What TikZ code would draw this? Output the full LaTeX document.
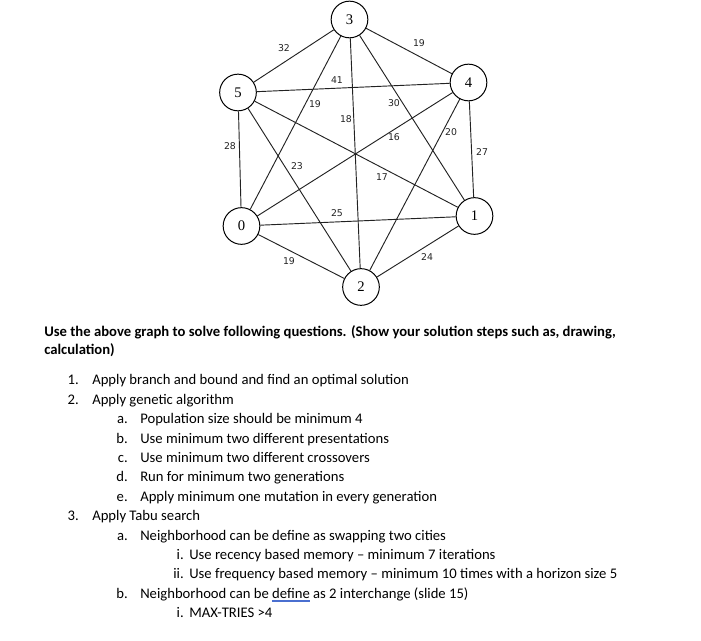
\documentclass[tikz,border=0pt]{standalone}
\usepackage{fontspec}
\setmainfont{Carlito}
\newfontfamily\costfont{DejaVu Sans}
\newfontfamily\cityfont{Liberation Serif}
\usetikzlibrary{positioning}
\definecolor{roadgray}{HTML}{222222}
\definecolor{wordblue}{HTML}{4A6FD0}
\newcommand{\blueul}[1]{\setbox0\hbox{#1}\rlap{\color{wordblue}\rule[-1.6pt]{\wd0}{0.35pt}}\rlap{\color{wordblue}\rule[-2.5pt]{\wd0}{0.35pt}}#1}
\tikzset{
  city/.style={circle,draw,line width=0.75pt,minimum size=27.5pt,inner sep=0pt,
    font=\cityfont\fontsize{11}{11}\selectfont},
  road/.style={line width=0.7pt,draw=roadgray},
  cost/.style={font=\costfont\fontsize{7}{7}\selectfont,text=roadgray,inner sep=0pt},
  qline/.style={anchor=base west,inner sep=0pt,font=\fontsize{11}{13}\selectfont},
  qmark/.style={anchor=base east,inner sep=0pt,font=\fontsize{11}{13}\selectfont},
}
\begin{document}
\begin{tikzpicture}[x=0.75pt,y=-0.75pt]
  \useasboundingbox (0,0) rectangle (701,641);
  % cities
  \node[city] (c3) at (349.5,19.5) {3};
  \node[city] (c4) at (468.5,82.5) {4};
  \node[city] (c5) at (238,92.5) {5};
  \node[city] (c0) at (241.5,226) {0};
  \node[city] (c1) at (474.5,216) {1};
  \node[city] (c2) at (361,287) {2};
  % roads
  \draw[road] (c3) -- (c5);
  \draw[road] (c3) -- (c4);
  \draw[road] (c5) -- (c4);
  \draw[road] (c3) -- (c0);
  \draw[road] (c3) -- (c1);
  \draw[road] (c3) -- (c2);
  \draw[road] (c4) -- (c0);
  \draw[road] (c4) -- (c2);
  \draw[road] (c4) -- (c1);
  \draw[road] (c5) -- (c0);
  \draw[road] (c5) -- (c2);
  \draw[road] (c5) -- (c1);
  \draw[road] (c0) -- (c1);
  \draw[road] (c0) -- (c2);
  \draw[road] (c1) -- (c2);
  % costs
  \node[cost] (w35) at (284,48) {32};
  \node[cost] (w34) at (419,43) {19};
  \node[cost] (w54) at (337,80) {41};
  \node[cost] (w30) at (315,104) {19};
  \node[cost] (w31) at (394,103) {30};
  \node[cost] (w32) at (346,119) {18};
  \node[cost] (w40) at (394,137) {16};
  \node[cost] (w42) at (451,132) {20};
  \node[cost] (w50) at (230,146) {28};
  \node[cost] (w41) at (482,152) {27};
  \node[cost] (w52) at (297,166) {23};
  \node[cost] (w51) at (382,177) {17};
  \node[cost] (w01) at (337,213) {25};
  \node[cost] (w02) at (289,261) {19};
  \node[cost] (w12) at (427,257) {24};
  % questions
  \node[qline,font=\bfseries\fontsize{11}{13}\selectfont] (head) at (44,337)
    {Use the above graph to solve following questions. (Show your solution steps such as, drawing,};
  \node[qline,font=\bfseries\fontsize{11}{13}\selectfont] (head2) at (44,355) {calculation)};
  \foreach \m/\xm/\xt/\txt [count=\i] in {
      1./79/92/Apply branch and bound and find an optimal solution,
      2./79/92/Apply genetic algorithm,
      a./128/140/Population size should be minimum 4,
      b./128/140/Use minimum two different presentations,
      c./128/140/Use minimum two different crossovers,
      d./128/140/Run for minimum two generations,
      e./128/140/Apply minimum one mutation in every generation,
      3./79/92/Apply Tabu search,
      a./128/140/Neighborhood can be define as swapping two cities,
      i./184/189/Use recency based memory – minimum 7 iterations,
      ii./184/189/Use frequency based memory – minimum 10 times with a horizon size 5,
      b./128/140/Neighborhood can be \blueul{define} as 2 interchange (slide 15),
      i./184/189/MAX-TRIES >4}{
    \node[qmark] (m\i) at (\xm,385+19.4*\i-19.4) {\m};
    \node[qline] (q\i) at (\xt,385+19.4*\i-19.4) {\txt};
  }
\end{tikzpicture}
\end{document}
